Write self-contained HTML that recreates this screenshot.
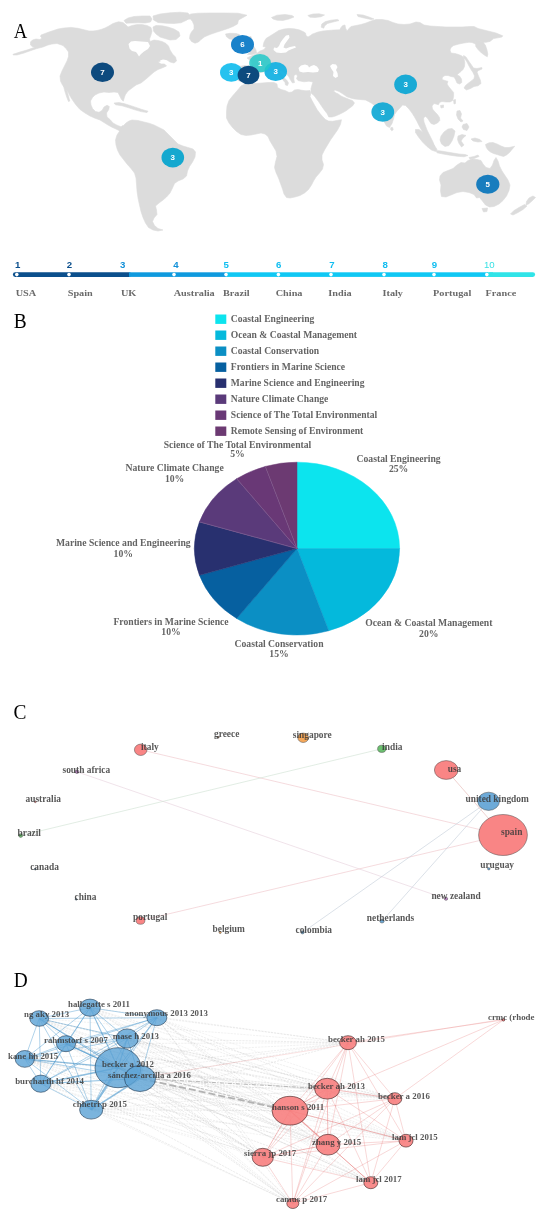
<!DOCTYPE html>
<html lang="en"><head><meta charset="utf-8"><title>Figure</title>
<style>html,body{margin:0;padding:0;background:#fff}svg{display:block}</style></head>
<body><svg width="550" height="1218" viewBox="0 0 550 1218">
<rect width="550" height="1218" fill="#fff"/>
<g id="map">
<polygon points="13.0,54.3 20.0,52.0 27.0,50.0 32.0,48.3 35.0,47.3 32.5,46.8 30.5,45.0 30.5,42.0 32.5,40.0 36.0,39.0 40.0,39.5 42.0,38.0 40.5,36.5 41.0,35.0 45.0,33.5 49.0,32.0 53.5,30.5 58.0,29.0 64.0,28.0 71.0,27.4 78.0,28.3 85.0,30.0 89.0,31.0 93.0,31.0 97.0,30.5 101.0,29.5 105.0,28.0 108.0,26.5 110.5,25.0 113.0,23.5 116.0,22.5 118.6,21.8 123.0,22.5 126.0,25.0 128.0,27.0 132.0,25.5 137.0,24.6 142.0,24.6 147.0,25.5 151.0,27.5 152.0,31.0 151.0,35.0 149.5,39.0 150.0,41.5 154.0,40.0 158.0,40.5 162.0,41.5 166.0,43.5 168.5,46.0 170.0,50.0 172.5,54.0 175.5,57.0 176.5,61.0 174.0,63.0 170.0,62.0 167.0,60.0 162.0,60.5 158.0,62.0 161.0,64.0 164.5,64.0 166.5,66.0 162.0,68.0 158.0,69.5 154.0,72.0 150.0,75.5 146.0,79.0 141.0,83.0 136.0,85.0 132.0,88.0 128.0,91.0 125.5,94.5 124.5,97.0 123.3,101.2 121.5,99.5 119.5,95.5 118.0,92.5 114.0,92.0 109.0,92.5 104.0,92.0 99.0,93.0 95.0,95.0 92.5,97.5 90.5,101.0 91.0,105.0 92.5,108.5 95.5,111.5 99.0,112.3 102.0,110.5 104.0,107.0 107.0,105.2 109.3,106.5 108.8,109.5 106.5,113.0 107.0,117.0 110.0,119.5 113.0,123.0 117.0,125.2 121.0,126.8 123.0,125.5 124.0,128.0 120.0,131.0 116.0,129.0 112.0,127.2 108.0,125.0 104.0,122.5 100.0,120.0 95.0,118.2 90.0,116.0 85.0,113.0 80.0,109.5 76.0,105.0 72.5,100.0 70.0,96.0 68.0,92.0 65.5,88.5 62.5,85.0 60.5,81.0 60.0,76.0 62.0,71.0 64.5,66.0 67.0,61.0 68.5,56.5 68.5,52.0 66.0,48.5 63.0,45.5 57.0,43.5 52.0,44.0 48.0,45.0 43.0,47.0 37.0,48.5 31.0,50.5 24.0,53.0 17.0,55.0 13.2,55.0" fill="#dcdcdc" stroke="#dcdcdc" stroke-width="0.6" stroke-linejoin="round"/>
<polygon points="124.0,20.5 128.0,18.0 134.0,16.5 142.0,16.0 150.0,16.0 152.0,19.0 150.5,22.0 145.0,23.0 138.0,22.8 131.0,23.0 126.0,23.2" fill="#dcdcdc" stroke="#dcdcdc" stroke-width="0.6" stroke-linejoin="round"/>
<polygon points="153.0,27.0 156.0,25.5 162.0,25.8 168.0,27.0 174.0,29.0 179.0,32.0 180.0,36.0 176.0,39.5 170.0,40.0 165.0,38.5 160.0,37.0 156.0,34.0 153.5,31.0" fill="#dcdcdc" stroke="#dcdcdc" stroke-width="0.6" stroke-linejoin="round"/>
<polygon points="153.0,16.0 160.0,14.0 170.0,12.8 180.0,12.2 188.0,13.0 190.0,16.0 187.0,20.0 181.0,22.8 174.0,23.5 166.0,23.2 158.0,22.5 153.5,20.0" fill="#dcdcdc" stroke="#dcdcdc" stroke-width="0.6" stroke-linejoin="round"/>
<polygon points="186.0,16.5 191.0,14.0 198.0,13.2 210.0,13.0 225.0,13.0 238.0,13.2 247.0,15.2 243.0,17.5 238.5,20.0 237.5,24.0 233.0,26.5 228.0,28.5 222.0,30.5 216.4,32.3 210.0,34.5 204.7,36.8 201.0,39.5 198.5,42.0 195.0,43.2 191.5,41.5 189.5,38.5 190.0,35.0 191.5,32.0 194.0,29.0 194.0,25.0 192.5,21.5 190.5,19.0 186.0,19.5 182.0,19.5" fill="#dcdcdc" stroke="#dcdcdc" stroke-width="0.6" stroke-linejoin="round"/>
<polygon points="225.5,34.0 230.0,33.3 236.0,33.5 239.5,34.5 238.0,37.0 234.0,39.5 229.5,39.0 226.5,36.8" fill="#dcdcdc" stroke="#dcdcdc" stroke-width="0.6" stroke-linejoin="round"/>
<polygon points="238.0,80.5 237.0,73.0 238.5,66.5 245.0,65.5 252.0,66.5 251.5,61.5 247.0,58.0 251.0,56.0 256.0,54.0 260.0,51.0 264.0,49.5 266.0,47.0 263.0,46.5 264.0,42.0 266.0,38.5 270.0,36.0 274.0,33.5 278.7,30.5 284.0,29.0 289.0,28.4 294.0,28.8 299.0,29.8 303.0,31.5 305.5,33.0 306.0,35.5 308.0,37.0 310.5,35.5 312.2,34.2 318.0,32.0 323.0,31.0 328.2,30.5 334.0,30.0 339.8,29.8 341.0,27.5 342.7,25.5 345.0,25.0 345.5,28.0 347.0,31.0 349.0,28.5 351.0,26.5 356.0,25.5 361.0,24.5 366.0,23.0 371.0,21.0 376.0,19.5 382.0,19.5 388.0,20.5 393.0,22.5 398.0,24.0 404.0,24.5 410.0,24.0 416.0,22.0 420.0,22.5 424.0,25.0 430.0,26.0 438.0,26.5 446.0,27.0 454.0,27.0 462.0,27.0 470.0,26.5 474.0,26.5 478.0,28.5 484.0,30.0 490.0,31.5 496.0,33.0 502.7,35.8 502.0,37.0 498.0,37.8 493.6,38.6 490.0,41.4 486.0,42.3 482.7,42.3 479.0,40.5 476.0,41.0 475.5,44.0 472.0,42.5 469.0,42.3 464.0,43.0 459.0,44.0 453.6,45.5 451.0,47.5 450.0,50.0 451.0,53.0 455.0,53.5 458.5,54.5 462.0,56.0 464.0,58.5 464.8,62.5 464.5,66.5 463.0,69.5 461.0,71.5 458.5,73.5 457.0,75.0 459.5,76.0 461.5,79.0 461.8,82.5 459.5,84.0 457.0,83.0 455.5,79.5 454.0,77.0 451.0,76.5 448.0,75.5 445.0,75.5 442.5,77.0 442.0,79.5 445.0,80.5 448.0,81.4 447.0,84.0 449.0,87.0 451.5,90.0 453.6,92.5 453.6,96.5 452.7,100.5 450.0,102.0 446.0,102.0 442.0,101.5 439.5,102.5 438.4,104.8 436.0,104.0 434.0,103.5 432.0,106.0 432.5,109.0 435.0,112.0 437.5,114.5 439.5,117.5 439.8,120.5 437.5,123.0 434.0,124.5 431.0,123.5 429.0,120.5 427.0,117.5 425.3,116.4 423.5,118.0 424.0,122.0 425.5,126.0 427.0,130.0 429.0,134.0 431.0,138.0 433.0,142.0 434.4,145.8 432.0,147.0 429.5,144.0 427.0,140.0 424.5,135.5 422.0,131.0 419.5,126.5 417.0,121.5 414.5,117.0 412.0,113.0 409.0,109.0 405.5,105.5 402.5,105.0 400.4,107.5 397.0,111.0 394.5,114.5 393.5,119.0 392.0,123.5 389.5,127.6 386.5,126.0 384.0,121.5 382.5,116.0 380.0,111.5 377.5,108.5 375.3,106.6 372.0,103.4 368.5,101.5 365.5,100.0 360.0,99.5 354.5,99.0 350.5,98.0 347.0,96.8 343.0,94.0 339.0,91.5 335.0,90.0 333.5,91.0 336.0,93.0 338.0,93.8 341.0,96.0 343.6,97.2 347.0,98.5 350.0,99.8 352.4,100.5 354.5,103.0 352.5,106.0 349.0,108.5 346.5,110.5 343.0,112.5 339.0,114.5 335.5,116.0 332.0,117.0 328.8,117.0 327.0,113.5 324.3,110.0 321.5,106.0 318.5,101.5 315.5,97.5 313.5,95.0 312.0,94.0 311.0,92.5 311.0,88.5 312.0,85.0 313.0,82.0 309.0,81.2 304.0,81.8 300.0,81.0 298.0,80.5 296.5,78.5 297.5,76.0 296.0,74.3 294.0,75.5 293.8,79.0 294.5,82.5 292.5,83.0 290.5,80.0 289.0,77.0 287.0,74.5 284.5,72.5 282.0,71.0 280.0,70.5 279.5,72.0 282.0,75.0 284.5,78.0 287.0,80.5 288.5,83.0 287.5,85.5 285.5,85.0 285.0,82.5 282.5,79.5 279.5,76.0 277.0,73.0 274.0,71.0 271.0,70.5 267.0,71.5 263.0,72.0 260.0,72.5 258.0,75.0 256.5,78.5 253.5,81.5 249.0,82.5 244.5,82.5 241.0,81.5" fill="#dcdcdc" stroke="#dcdcdc" stroke-width="0.6" stroke-linejoin="round"/>
<polygon points="247.5,37.0 251.0,36.5 252.0,40.0 251.0,43.0 253.5,46.0 256.0,50.0 256.5,53.0 252.0,54.5 247.5,54.5 250.0,52.0 248.0,49.5 249.5,46.5 247.5,43.0 246.5,40.0" fill="#dcdcdc" stroke="#dcdcdc" stroke-width="0.6" stroke-linejoin="round"/>
<polygon points="241.5,47.0 245.5,46.0 246.5,49.5 244.5,52.5 240.5,52.5" fill="#dcdcdc" stroke="#dcdcdc" stroke-width="0.6" stroke-linejoin="round"/>
<polygon points="463.6,55.5 466.0,57.0 469.0,61.5 471.5,65.0 473.5,68.0 477.0,68.5 481.8,67.5 482.0,69.0 478.5,70.5 477.0,72.0 478.5,76.0 480.3,80.0 481.0,83.5 478.0,85.8 474.0,86.5 470.5,88.5 466.4,90.0 464.0,88.0 465.5,85.5 468.5,83.0 472.0,80.5 474.0,78.5 474.6,76.0 473.0,72.5 471.0,69.5 469.0,66.0 467.0,62.0 465.3,59.5 463.3,57.5" fill="#dcdcdc" stroke="#dcdcdc" stroke-width="0.6" stroke-linejoin="round"/>
<polygon points="476.0,41.0 479.0,40.5 483.0,42.0 485.5,45.5 487.0,50.0 487.8,54.0 487.3,56.8 485.0,55.5 481.5,53.0 478.0,49.5 475.8,46.5 475.5,43.5" fill="#dcdcdc" stroke="#dcdcdc" stroke-width="0.6" stroke-linejoin="round"/>
<polygon points="471.0,139.0 475.0,138.0 480.0,139.5 482.0,141.5 478.0,142.0 473.0,141.0" fill="#dcdcdc" stroke="#dcdcdc" stroke-width="0.6" stroke-linejoin="round"/>
<polygon points="469.0,157.5 474.0,156.5 478.0,155.0 479.0,156.5 474.0,158.5 470.0,159.0" fill="#dcdcdc" stroke="#dcdcdc" stroke-width="0.6" stroke-linejoin="round"/>
<polygon points="241.0,86.0 245.0,84.0 250.0,83.5 256.0,83.5 262.0,83.0 268.0,82.5 274.0,82.5 277.0,84.0 277.5,87.5 281.0,89.5 285.0,90.5 289.0,92.5 292.0,92.0 294.5,90.0 298.0,89.5 302.0,90.3 306.0,90.8 310.0,90.5 310.8,93.5 310.0,96.5 312.0,100.5 314.5,105.0 317.0,109.5 320.0,113.5 323.0,117.0 325.5,119.5 328.5,121.0 332.5,121.3 337.0,120.5 341.5,119.7 340.4,124.5 337.5,130.0 334.0,135.0 330.5,140.0 327.5,145.0 324.5,150.0 322.0,155.0 322.0,160.0 323.5,164.5 322.5,169.0 319.5,173.0 316.0,177.0 313.5,181.0 311.5,185.0 308.5,189.5 304.5,193.0 300.0,195.5 295.0,197.0 290.0,198.0 286.5,197.5 284.0,194.0 282.5,189.0 280.5,183.5 278.5,178.0 276.0,172.5 274.5,167.5 275.5,162.0 277.0,156.5 276.0,151.0 273.0,146.0 270.0,141.0 268.0,136.5 265.0,134.0 261.0,133.0 256.0,134.0 251.0,135.0 246.0,135.5 241.0,134.5 236.5,131.5 232.5,127.5 229.0,123.0 226.5,118.0 226.5,112.0 227.0,106.0 229.0,100.5 232.5,96.0 236.0,92.0 239.0,88.5" fill="#dcdcdc" stroke="#dcdcdc" stroke-width="0.6" stroke-linejoin="round"/>
<polygon points="120.0,130.5 123.0,126.0 126.0,123.0 129.0,121.0 132.0,120.0 138.0,120.5 144.0,122.0 149.0,123.2 154.0,125.0 159.0,127.5 164.0,130.0 167.0,133.0 170.0,136.0 174.0,140.0 178.0,144.0 183.0,146.0 188.0,147.5 193.0,149.0 195.5,152.0 195.0,157.0 192.5,162.0 189.5,166.5 187.5,171.0 186.5,176.0 183.0,179.0 178.0,181.0 174.5,183.5 172.5,188.0 170.0,193.0 166.5,197.0 163.0,200.0 159.0,203.0 155.5,206.0 156.5,210.0 157.0,214.5 154.0,218.0 152.5,221.5 154.5,225.5 158.0,228.5 163.0,230.0 158.0,231.0 153.0,230.0 148.5,227.5 145.5,223.0 143.0,217.5 141.0,211.5 139.5,205.0 138.0,198.0 137.0,191.0 136.5,184.0 136.0,178.0 134.5,173.0 131.0,168.5 127.0,164.0 123.5,159.5 120.0,155.0 117.5,150.0 116.0,145.0 115.5,140.0 117.0,135.0" fill="#dcdcdc" stroke="#dcdcdc" stroke-width="0.6" stroke-linejoin="round"/>
<polygon points="114.0,103.0 119.0,102.6 124.0,103.6 130.0,105.4 136.0,107.4 142.0,109.5 148.0,111.2 147.0,112.6 141.0,111.6 134.0,109.6 128.0,107.6 122.0,105.8 115.5,104.8" fill="#dcdcdc" stroke="#dcdcdc" stroke-width="0.6" stroke-linejoin="round"/>
<polygon points="63.5,86.0 65.0,85.5 67.0,91.0 68.5,96.0 69.8,101.0 68.5,101.5 66.5,96.5 64.8,91.0" fill="#dcdcdc" stroke="#dcdcdc" stroke-width="0.6" stroke-linejoin="round"/>
<polygon points="440.0,176.0 443.0,172.5 448.0,170.5 453.0,168.5 457.0,165.0 461.0,162.5 465.0,163.0 468.0,160.5 472.0,159.0 477.0,159.5 481.0,160.5 483.0,164.0 486.0,167.5 490.0,168.5 492.5,165.0 494.0,160.5 496.0,157.5 498.0,161.0 499.5,166.0 502.0,171.0 505.0,175.5 508.0,180.0 510.0,185.0 509.0,190.5 506.5,196.0 503.0,200.5 499.0,204.0 494.0,206.5 489.5,207.0 485.5,205.0 482.0,200.5 479.5,197.5 476.5,198.0 474.0,194.5 469.0,192.5 463.0,191.5 457.0,192.5 451.0,195.0 446.0,197.0 441.5,196.5 440.5,191.0 441.0,185.0 439.5,180.0" fill="#dcdcdc" stroke="#dcdcdc" stroke-width="0.6" stroke-linejoin="round"/>
<polygon points="482.0,208.5 487.5,208.0 487.0,211.5 483.5,212.0" fill="#dcdcdc" stroke="#dcdcdc" stroke-width="0.6" stroke-linejoin="round"/>
<polygon points="529.0,198.0 533.0,196.0 535.5,197.5 532.0,201.0 528.5,204.0 526.0,205.0 526.5,201.5" fill="#dcdcdc" stroke="#dcdcdc" stroke-width="0.6" stroke-linejoin="round"/>
<polygon points="524.5,204.5 527.0,206.0 523.0,209.5 518.0,212.5 513.0,215.0 510.5,214.0 514.0,210.5 519.0,207.5" fill="#dcdcdc" stroke="#dcdcdc" stroke-width="0.6" stroke-linejoin="round"/>
<polygon points="485.5,144.5 489.0,142.8 493.0,142.5 497.0,144.0 501.0,146.0 505.0,147.5 509.0,147.5 514.7,146.3 512.0,149.5 509.5,152.5 506.5,155.0 503.5,156.5 500.0,155.5 497.0,154.5 493.5,153.5 490.5,152.0 488.0,150.0 486.3,147.5" fill="#dcdcdc" stroke="#dcdcdc" stroke-width="0.6" stroke-linejoin="round"/>
<polygon points="441.0,136.0 444.0,132.0 448.0,129.0 452.0,128.5 455.0,131.0 454.0,136.0 452.0,141.0 449.0,145.5 445.0,146.5 441.5,144.0 440.0,140.0" fill="#dcdcdc" stroke="#dcdcdc" stroke-width="0.6" stroke-linejoin="round"/>
<polygon points="415.5,129.5 419.0,129.5 423.0,132.5 427.0,136.5 431.0,141.0 434.5,145.5 437.0,149.5 435.5,151.5 431.5,150.0 427.0,146.5 422.5,142.0 418.5,137.0 415.5,132.5" fill="#dcdcdc" stroke="#dcdcdc" stroke-width="0.6" stroke-linejoin="round"/>
<polygon points="436.0,150.5 441.0,151.0 447.0,152.0 453.0,153.0 459.0,154.0 465.0,154.5 468.0,155.5 464.0,156.8 457.0,156.2 450.0,155.2 443.0,154.0 437.0,152.8" fill="#dcdcdc" stroke="#dcdcdc" stroke-width="0.6" stroke-linejoin="round"/>
<polygon points="458.0,136.0 462.0,134.5 466.0,135.5 463.0,138.0 461.0,141.0 464.0,145.0 461.5,147.0 459.0,143.5 457.5,139.5" fill="#dcdcdc" stroke="#dcdcdc" stroke-width="0.6" stroke-linejoin="round"/>
<polygon points="457.0,111.0 460.0,110.5 461.5,114.0 460.5,118.0 463.0,121.0 461.0,122.0 458.0,119.0 456.5,115.0" fill="#dcdcdc" stroke="#dcdcdc" stroke-width="0.6" stroke-linejoin="round"/>
<polygon points="463.0,124.5 467.0,123.5 469.0,127.0 467.0,130.5 463.5,129.5 462.0,127.0" fill="#dcdcdc" stroke="#dcdcdc" stroke-width="0.6" stroke-linejoin="round"/>
<polygon points="453.5,100.0 455.5,99.5 455.5,103.5 454.0,104.0" fill="#dcdcdc" stroke="#dcdcdc" stroke-width="0.6" stroke-linejoin="round"/>
<polygon points="390.8,127.6 392.6,127.4 393.2,129.8 391.8,130.8 390.6,129.6" fill="#dcdcdc" stroke="#dcdcdc" stroke-width="0.6" stroke-linejoin="round"/>
<polygon points="440.5,105.5 443.5,105.0 443.5,107.5 441.0,108.0" fill="#dcdcdc" stroke="#dcdcdc" stroke-width="0.6" stroke-linejoin="round"/>
<polygon points="271.5,17.5 277.0,15.2 285.0,14.5 292.0,15.5 294.0,17.0 289.0,19.0 283.0,20.4 277.0,20.2 273.0,19.0" fill="#dcdcdc" stroke="#dcdcdc" stroke-width="0.6" stroke-linejoin="round"/>
<polygon points="307.8,15.5 313.0,14.0 319.0,13.8 324.5,15.0 321.0,16.8 315.0,17.5 310.0,17.2" fill="#dcdcdc" stroke="#dcdcdc" stroke-width="0.6" stroke-linejoin="round"/>
<polygon points="321.2,27.2 321.8,24.0 325.3,21.6 331.0,20.2 337.6,19.4 339.0,20.6 333.0,22.0 327.5,23.5 324.5,26.0 323.8,28.2" fill="#dcdcdc" stroke="#dcdcdc" stroke-width="0.6" stroke-linejoin="round"/>
<polygon points="357.0,14.5 363.0,15.0 369.0,17.0 374.0,19.0 371.0,19.5 364.0,18.0 358.0,16.5" fill="#dcdcdc" stroke="#dcdcdc" stroke-width="0.6" stroke-linejoin="round"/>
<polygon points="298.5,68.0 301.0,65.5 305.0,64.5 308.0,65.5 309.0,67.5 311.0,66.0 314.0,65.0 317.0,66.5 319.0,69.5 318.0,72.0 313.0,72.5 308.0,72.0 303.0,72.5 299.5,71.5" fill="#fff"/>
<polygon points="330.0,66.0 332.5,64.0 336.0,64.5 337.5,67.0 336.0,70.0 337.5,73.0 338.0,76.5 335.5,78.0 333.0,76.0 333.5,72.0 331.5,69.0" fill="#fff"/>
<polygon points="286.0,35.5 289.0,35.0 289.5,37.5 287.0,41.0 284.5,44.5 283.5,47.5 286.0,48.5 290.0,47.0 295.0,46.0 296.0,47.5 292.0,49.0 288.5,50.5 286.0,52.5 281.0,53.0 276.5,52.5 273.5,50.0 274.0,47.5 277.0,48.0 279.0,46.0 280.5,42.5 283.0,39.0" fill="#fff"/>
<polygon points="128.5,44.0 131.0,41.5 135.0,41.0 141.0,41.5 148.0,42.0 150.0,46.0 148.0,49.0 144.0,51.5 141.0,54.0 139.0,56.5 137.5,54.0 136.0,52.0 132.0,51.0 129.5,48.5" fill="#fff"/>
<polygon points="160.0,60.5 163.0,59.5 166.0,60.0 168.0,62.0 165.0,62.5 161.0,62.0" fill="#fff"/>
</g>
<text transform="translate(13.80,37.50) scale(0.920,1)" font-family='"Liberation Serif", serif' font-size="20.40" font-weight="normal" fill="#000" text-anchor="start" >A</text>
<ellipse cx="102.5" cy="72.3" rx="11.5" ry="9.7" fill="#0d4a7e" fill-opacity="1.00"/>
<text transform="translate(102.50,74.85) scale(1.120,1)" font-family='"Liberation Sans", sans-serif' font-size="7.10" font-weight="bold" fill="#fff" text-anchor="middle" >7</text>
<ellipse cx="242.5" cy="44.5" rx="11.5" ry="9.6" fill="#1a82ca" fill-opacity="1.00"/>
<text transform="translate(242.50,47.05) scale(1.120,1)" font-family='"Liberation Sans", sans-serif' font-size="7.10" font-weight="bold" fill="#fff" text-anchor="middle" >6</text>
<ellipse cx="231.3" cy="72.4" rx="11.3" ry="9.3" fill="#16bdee" fill-opacity="0.93"/>
<text transform="translate(231.30,74.95) scale(1.120,1)" font-family='"Liberation Sans", sans-serif' font-size="7.10" font-weight="bold" fill="#fff" text-anchor="middle" >3</text>
<ellipse cx="275.7" cy="71.5" rx="11.3" ry="9.5" fill="#10b0e2" fill-opacity="0.92"/>
<text transform="translate(275.70,74.05) scale(1.120,1)" font-family='"Liberation Sans", sans-serif' font-size="7.10" font-weight="bold" fill="#fff" text-anchor="middle" >3</text>
<ellipse cx="260.1" cy="63.1" rx="10.9" ry="9.1" fill="#22c8c8" fill-opacity="0.85"/>
<text transform="translate(260.10,65.65) scale(1.120,1)" font-family='"Liberation Sans", sans-serif' font-size="7.10" font-weight="bold" fill="#fff" text-anchor="middle" >1</text>
<ellipse cx="248.5" cy="75.0" rx="10.9" ry="9.3" fill="#0d4a7e" fill-opacity="1.00"/>
<text transform="translate(248.50,77.55) scale(1.120,1)" font-family='"Liberation Sans", sans-serif' font-size="7.10" font-weight="bold" fill="#fff" text-anchor="middle" >7</text>
<ellipse cx="405.6" cy="84.4" rx="11.4" ry="9.8" fill="#0aa6d4" fill-opacity="0.93"/>
<text transform="translate(405.60,86.95) scale(1.120,1)" font-family='"Liberation Sans", sans-serif' font-size="7.10" font-weight="bold" fill="#fff" text-anchor="middle" >3</text>
<ellipse cx="382.8" cy="112.0" rx="11.4" ry="9.8" fill="#0aa6d4" fill-opacity="0.90"/>
<text transform="translate(382.80,114.55) scale(1.120,1)" font-family='"Liberation Sans", sans-serif' font-size="7.10" font-weight="bold" fill="#fff" text-anchor="middle" >3</text>
<ellipse cx="172.8" cy="157.6" rx="11.3" ry="9.9" fill="#08a4ce" fill-opacity="0.95"/>
<text transform="translate(172.80,160.15) scale(1.120,1)" font-family='"Liberation Sans", sans-serif' font-size="7.10" font-weight="bold" fill="#fff" text-anchor="middle" >3</text>
<ellipse cx="487.8" cy="184.2" rx="11.6" ry="9.5" fill="#1079bc" fill-opacity="0.96"/>
<text transform="translate(487.80,186.75) scale(1.120,1)" font-family='"Liberation Sans", sans-serif' font-size="7.10" font-weight="bold" fill="#fff" text-anchor="middle" >5</text>
<line x1="15.2" y1="274.6" x2="129" y2="274.6" stroke="#0b4f8c" stroke-width="4.6" stroke-linecap="round"/>
<rect x="129" y="272.3" width="97" height="4.6" fill="#0f9ade"/>
<rect x="226" y="272.3" width="262" height="4.6" fill="#10c8f4"/>
<line x1="490" y1="274.6" x2="532.8" y2="274.6" stroke="#30e4e8" stroke-width="4.6" stroke-linecap="round"/>
<rect x="487" y="272.3" width="6" height="4.6" fill="#30e4e8"/>
<circle cx="16.8" cy="274.6" r="1.8" fill="#fff"/>
<text transform="translate(15.00,267.50) scale(1.150,1)" font-family='"Liberation Sans", sans-serif' font-size="8.40" font-weight="bold" fill="#0b4f8c" text-anchor="start" >1</text>
<text transform="translate(15.70,296.00) scale(1.180,1)" font-family='"Liberation Serif", serif' font-size="8.70" font-weight="bold" fill="#6a6a6a" text-anchor="start" >USA</text>
<circle cx="69.0" cy="274.6" r="1.8" fill="#fff"/>
<text transform="translate(66.80,267.50) scale(1.150,1)" font-family='"Liberation Sans", sans-serif' font-size="8.40" font-weight="bold" fill="#0b4f8c" text-anchor="start" >2</text>
<text transform="translate(67.70,296.00) scale(1.180,1)" font-family='"Liberation Serif", serif' font-size="8.70" font-weight="bold" fill="#6a6a6a" text-anchor="start" >Spain</text>
<text transform="translate(120.00,267.50) scale(1.150,1)" font-family='"Liberation Sans", sans-serif' font-size="8.40" font-weight="bold" fill="#1290d8" text-anchor="start" >3</text>
<text transform="translate(120.90,296.00) scale(1.180,1)" font-family='"Liberation Serif", serif' font-size="8.70" font-weight="bold" fill="#6a6a6a" text-anchor="start" >UK</text>
<circle cx="174.0" cy="274.6" r="1.8" fill="#fff"/>
<text transform="translate(173.20,267.50) scale(1.150,1)" font-family='"Liberation Sans", sans-serif' font-size="8.40" font-weight="bold" fill="#1290d8" text-anchor="start" >4</text>
<text transform="translate(173.70,296.00) scale(1.180,1)" font-family='"Liberation Serif", serif' font-size="8.70" font-weight="bold" fill="#6a6a6a" text-anchor="start" >Australia</text>
<circle cx="226.0" cy="274.6" r="1.8" fill="#fff"/>
<text transform="translate(223.40,267.50) scale(1.150,1)" font-family='"Liberation Sans", sans-serif' font-size="8.40" font-weight="bold" fill="#10bdf0" text-anchor="start" >5</text>
<text transform="translate(222.90,296.00) scale(1.180,1)" font-family='"Liberation Serif", serif' font-size="8.70" font-weight="bold" fill="#6a6a6a" text-anchor="start" >Brazil</text>
<circle cx="278.4" cy="274.6" r="1.8" fill="#fff"/>
<text transform="translate(276.00,267.50) scale(1.150,1)" font-family='"Liberation Sans", sans-serif' font-size="8.40" font-weight="bold" fill="#10bdf0" text-anchor="start" >6</text>
<text transform="translate(275.70,296.00) scale(1.180,1)" font-family='"Liberation Serif", serif' font-size="8.70" font-weight="bold" fill="#6a6a6a" text-anchor="start" >China</text>
<circle cx="331.0" cy="274.6" r="1.8" fill="#fff"/>
<text transform="translate(329.20,267.50) scale(1.150,1)" font-family='"Liberation Sans", sans-serif' font-size="8.40" font-weight="bold" fill="#10bdf0" text-anchor="start" >7</text>
<text transform="translate(328.30,296.00) scale(1.180,1)" font-family='"Liberation Serif", serif' font-size="8.70" font-weight="bold" fill="#6a6a6a" text-anchor="start" >India</text>
<circle cx="384.0" cy="274.6" r="1.8" fill="#fff"/>
<text transform="translate(382.60,267.50) scale(1.150,1)" font-family='"Liberation Sans", sans-serif' font-size="8.40" font-weight="bold" fill="#10bdf0" text-anchor="start" >8</text>
<text transform="translate(382.50,296.00) scale(1.180,1)" font-family='"Liberation Serif", serif' font-size="8.70" font-weight="bold" fill="#6a6a6a" text-anchor="start" >Italy</text>
<circle cx="434.0" cy="274.6" r="1.8" fill="#fff"/>
<text transform="translate(431.80,267.50) scale(1.150,1)" font-family='"Liberation Sans", sans-serif' font-size="8.40" font-weight="bold" fill="#10bdf0" text-anchor="start" >9</text>
<text transform="translate(433.10,296.00) scale(1.180,1)" font-family='"Liberation Serif", serif' font-size="8.70" font-weight="bold" fill="#6a6a6a" text-anchor="start" >Portugal</text>
<circle cx="486.8" cy="274.6" r="1.8" fill="#fff"/>
<text transform="translate(484.00,267.50) scale(1.150,1)" font-family='"Liberation Sans", sans-serif' font-size="8.40" font-weight="normal" fill="#38e0e4" text-anchor="start" >10</text>
<text transform="translate(485.50,296.00) scale(1.180,1)" font-family='"Liberation Serif", serif' font-size="8.70" font-weight="bold" fill="#6a6a6a" text-anchor="start" >France</text>
<text transform="translate(13.80,327.50) scale(0.950,1)" font-family='"Liberation Serif", serif' font-size="20.40" font-weight="normal" fill="#000" text-anchor="start" >B</text>
<rect x="215.3" y="314.5" width="11" height="9.4" fill="#0ce4ee"/>
<text x="230.80" y="322.00" font-family='"Liberation Serif", serif' font-size="9.62" font-weight="bold" fill="#646464" text-anchor="start" >Coastal Engineering</text>
<rect x="215.3" y="330.5" width="11" height="9.4" fill="#04b9dc"/>
<text x="230.80" y="338.00" font-family='"Liberation Serif", serif' font-size="9.62" font-weight="bold" fill="#646464" text-anchor="start" >Ocean &amp; Coastal Management</text>
<rect x="215.3" y="346.5" width="11" height="9.4" fill="#0b8fc4"/>
<text x="230.80" y="354.00" font-family='"Liberation Serif", serif' font-size="9.62" font-weight="bold" fill="#646464" text-anchor="start" >Coastal Conservation</text>
<rect x="215.3" y="362.5" width="11" height="9.4" fill="#0660a0"/>
<text x="230.80" y="370.00" font-family='"Liberation Serif", serif' font-size="9.62" font-weight="bold" fill="#646464" text-anchor="start" >Frontiers in Marine Science</text>
<rect x="215.3" y="378.5" width="11" height="9.4" fill="#28306f"/>
<text x="230.80" y="386.00" font-family='"Liberation Serif", serif' font-size="9.62" font-weight="bold" fill="#646464" text-anchor="start" >Marine Science and Engineering</text>
<rect x="215.3" y="394.5" width="11" height="9.4" fill="#5a3a7a"/>
<text x="230.80" y="402.00" font-family='"Liberation Serif", serif' font-size="9.62" font-weight="bold" fill="#646464" text-anchor="start" >Nature Climate Change</text>
<rect x="215.3" y="410.5" width="11" height="9.4" fill="#693876"/>
<text x="230.80" y="418.00" font-family='"Liberation Serif", serif' font-size="9.62" font-weight="bold" fill="#646464" text-anchor="start" >Science of The Total Environmental</text>
<rect x="215.3" y="426.5" width="11" height="9.4" fill="#6c3a72"/>
<text x="230.80" y="434.00" font-family='"Liberation Serif", serif' font-size="9.62" font-weight="bold" fill="#646464" text-anchor="start" >Remote Sensing of Environment</text>
<path d="M297.00,548.60 L297.00,462.20 A102.60,86.40 0 0 1 399.60,548.60 Z" fill="#0ce4ee" stroke="#0ce4ee" stroke-width="0.5"/>
<path d="M297.00,548.60 L399.60,548.60 A102.60,86.40 0 0 1 328.71,630.77 Z" fill="#04b9dc" stroke="#04b9dc" stroke-width="0.5"/>
<path d="M297.00,548.60 L328.71,630.77 A102.60,86.40 0 0 1 236.69,618.50 Z" fill="#0b8fc4" stroke="#0b8fc4" stroke-width="0.5"/>
<path d="M297.00,548.60 L236.69,618.50 A102.60,86.40 0 0 1 199.42,575.30 Z" fill="#0660a0" stroke="#0660a0" stroke-width="0.5"/>
<path d="M297.00,548.60 L199.42,575.30 A102.60,86.40 0 0 1 199.42,521.90 Z" fill="#28306f" stroke="#28306f" stroke-width="0.5"/>
<path d="M297.00,548.60 L199.42,521.90 A102.60,86.40 0 0 1 236.69,478.70 Z" fill="#5a3a7a" stroke="#5a3a7a" stroke-width="0.5"/>
<path d="M297.00,548.60 L236.69,478.70 A102.60,86.40 0 0 1 265.29,466.43 Z" fill="#693876" stroke="#693876" stroke-width="0.5"/>
<path d="M297.00,548.60 L265.29,466.43 A102.60,86.40 0 0 1 297.00,462.20 Z" fill="#6c3a72" stroke="#6c3a72" stroke-width="0.5"/>
<line x1="297.00" y1="548.60" x2="199.42" y2="521.90" stroke="#8a6a9a" stroke-width="0.5"/>
<line x1="297.00" y1="548.60" x2="236.69" y2="478.70" stroke="#8a6a9a" stroke-width="0.5"/>
<line x1="297.00" y1="548.60" x2="265.29" y2="466.43" stroke="#8a6a9a" stroke-width="0.5"/>
<text x="398.60" y="461.80" font-family='"Liberation Serif", serif' font-size="9.70" font-weight="bold" fill="#646464" text-anchor="middle" >Coastal Engineering</text>
<text x="398.60" y="472.00" font-family='"Liberation Serif", serif' font-size="9.70" font-weight="bold" fill="#646464" text-anchor="middle" >25%</text>
<text x="428.80" y="626.10" font-family='"Liberation Serif", serif' font-size="9.70" font-weight="bold" fill="#646464" text-anchor="middle" >Ocean &amp; Coastal Management</text>
<text x="428.80" y="637.20" font-family='"Liberation Serif", serif' font-size="9.70" font-weight="bold" fill="#646464" text-anchor="middle" >20%</text>
<text x="279.00" y="647.00" font-family='"Liberation Serif", serif' font-size="9.70" font-weight="bold" fill="#646464" text-anchor="middle" >Coastal Conservation</text>
<text x="279.00" y="656.80" font-family='"Liberation Serif", serif' font-size="9.70" font-weight="bold" fill="#646464" text-anchor="middle" >15%</text>
<text x="171.00" y="625.30" font-family='"Liberation Serif", serif' font-size="9.70" font-weight="bold" fill="#646464" text-anchor="middle" >Frontiers in Marine Science</text>
<text x="171.00" y="635.30" font-family='"Liberation Serif", serif' font-size="9.70" font-weight="bold" fill="#646464" text-anchor="middle" >10%</text>
<text x="123.30" y="546.10" font-family='"Liberation Serif", serif' font-size="9.70" font-weight="bold" fill="#646464" text-anchor="middle" >Marine Science and Engineering</text>
<text x="123.30" y="556.90" font-family='"Liberation Serif", serif' font-size="9.70" font-weight="bold" fill="#646464" text-anchor="middle" >10%</text>
<text x="174.60" y="470.80" font-family='"Liberation Serif", serif' font-size="9.70" font-weight="bold" fill="#646464" text-anchor="middle" >Nature Climate Change</text>
<text x="174.60" y="481.70" font-family='"Liberation Serif", serif' font-size="9.70" font-weight="bold" fill="#646464" text-anchor="middle" >10%</text>
<text x="237.50" y="448.20" font-family='"Liberation Serif", serif' font-size="9.70" font-weight="bold" fill="#646464" text-anchor="middle" >Science of The Total Environmental</text>
<text x="237.50" y="457.40" font-family='"Liberation Serif", serif' font-size="9.70" font-weight="bold" fill="#646464" text-anchor="middle" >5%</text>
<text transform="translate(13.60,718.80) scale(0.950,1)" font-family='"Liberation Serif", serif' font-size="20.40" font-weight="normal" fill="#000" text-anchor="start" >C</text>
<line x1="140.7" y1="749.8" x2="503.0" y2="835.0" stroke="#eec2c8" stroke-width="0.6"/>
<line x1="77.0" y1="771.8" x2="446.0" y2="898.8" stroke="#e6d0dc" stroke-width="0.6"/>
<line x1="20.7" y1="835.6" x2="381.8" y2="748.8" stroke="#cfe0d2" stroke-width="0.6"/>
<line x1="140.5" y1="920.5" x2="503.0" y2="835.0" stroke="#eec2c8" stroke-width="0.6"/>
<line x1="302.5" y1="932.5" x2="488.6" y2="801.3" stroke="#c2ccd8" stroke-width="0.6"/>
<line x1="382.0" y1="921.2" x2="488.6" y2="801.3" stroke="#c2ccd8" stroke-width="0.6"/>
<line x1="446.2" y1="770.0" x2="503.0" y2="835.0" stroke="#e4b4b0" stroke-width="0.6"/>
<ellipse cx="140.7" cy="749.8" rx="6.3" ry="5.7" fill="#f98585" stroke="#4a4a4a" stroke-width="0.5"/>
<ellipse cx="218.2" cy="737.2" rx="1.0" ry="0.9" fill="#b08060" stroke="#4a4a4a" stroke-width="0.5"/>
<ellipse cx="303.2" cy="737.8" rx="5.4" ry="4.7" fill="#f5a85a" stroke="#4a4a4a" stroke-width="0.5"/>
<ellipse cx="381.8" cy="748.8" rx="4.2" ry="3.6" fill="#6cc070" stroke="#4a4a4a" stroke-width="0.5"/>
<ellipse cx="446.2" cy="770.0" rx="11.8" ry="9.4" fill="#f98585" stroke="#4a4a4a" stroke-width="0.5"/>
<ellipse cx="488.6" cy="801.3" rx="10.9" ry="9.1" fill="#6daad8" stroke="#4a4a4a" stroke-width="0.5"/>
<ellipse cx="503.0" cy="835.0" rx="24.4" ry="20.5" fill="#f98585" stroke="#4a4a4a" stroke-width="0.5"/>
<ellipse cx="488.8" cy="868.8" rx="1.3" ry="1.1" fill="#6daad8" stroke="#4a4a4a" stroke-width="0.5"/>
<ellipse cx="446.0" cy="898.8" rx="1.7" ry="1.5" fill="#c78ad0" stroke="#4a4a4a" stroke-width="0.5"/>
<ellipse cx="382.0" cy="921.2" rx="2.1" ry="1.8" fill="#6daad8" stroke="#4a4a4a" stroke-width="0.5"/>
<ellipse cx="302.5" cy="932.5" rx="1.6" ry="1.4" fill="#6daad8" stroke="#4a4a4a" stroke-width="0.5"/>
<ellipse cx="220.2" cy="932.5" rx="1.1" ry="1.0" fill="#f5a85a" stroke="#4a4a4a" stroke-width="0.5"/>
<ellipse cx="140.5" cy="920.5" rx="4.4" ry="3.8" fill="#f98585" stroke="#4a4a4a" stroke-width="0.5"/>
<ellipse cx="76.2" cy="899.3" rx="1.0" ry="0.9" fill="#6daad8" stroke="#4a4a4a" stroke-width="0.5"/>
<ellipse cx="35.3" cy="869.2" rx="1.0" ry="0.9" fill="#6daad8" stroke="#4a4a4a" stroke-width="0.5"/>
<ellipse cx="20.7" cy="835.6" rx="2.0" ry="1.8" fill="#6cc070" stroke="#4a4a4a" stroke-width="0.5"/>
<ellipse cx="35.3" cy="801.8" rx="1.0" ry="0.9" fill="#f98585" stroke="#4a4a4a" stroke-width="0.5"/>
<ellipse cx="77.0" cy="771.8" rx="1.9" ry="1.7" fill="#c78ad0" stroke="#4a4a4a" stroke-width="0.5"/>
<text x="141.00" y="750.00" font-family='"Liberation Serif", serif' font-size="9.40" font-weight="bold" fill="#3a3a3a" text-anchor="start" fill-opacity="0.85">italy</text>
<text x="214.00" y="737.00" font-family='"Liberation Serif", serif' font-size="9.40" font-weight="bold" fill="#3a3a3a" text-anchor="start" fill-opacity="0.85">greece</text>
<text x="292.80" y="737.60" font-family='"Liberation Serif", serif' font-size="9.40" font-weight="bold" fill="#3a3a3a" text-anchor="start" fill-opacity="0.85">singapore</text>
<text x="382.10" y="750.20" font-family='"Liberation Serif", serif' font-size="9.40" font-weight="bold" fill="#3a3a3a" text-anchor="start" fill-opacity="0.85">india</text>
<text x="447.70" y="772.10" font-family='"Liberation Serif", serif' font-size="9.40" font-weight="bold" fill="#3a3a3a" text-anchor="start" fill-opacity="0.85">usa</text>
<text x="465.50" y="801.80" font-family='"Liberation Serif", serif' font-size="9.40" font-weight="bold" fill="#3a3a3a" text-anchor="start" fill-opacity="0.85">united kingdom</text>
<text x="501.00" y="835.40" font-family='"Liberation Serif", serif' font-size="9.40" font-weight="bold" fill="#3a3a3a" text-anchor="start" fill-opacity="0.85">spain</text>
<text x="480.20" y="867.60" font-family='"Liberation Serif", serif' font-size="9.40" font-weight="bold" fill="#3a3a3a" text-anchor="start" fill-opacity="0.85">uruguay</text>
<text x="431.40" y="899.00" font-family='"Liberation Serif", serif' font-size="9.40" font-weight="bold" fill="#3a3a3a" text-anchor="start" fill-opacity="0.85">new zealand</text>
<text x="366.80" y="920.80" font-family='"Liberation Serif", serif' font-size="9.40" font-weight="bold" fill="#3a3a3a" text-anchor="start" fill-opacity="0.85">netherlands</text>
<text x="295.50" y="933.00" font-family='"Liberation Serif", serif' font-size="9.40" font-weight="bold" fill="#3a3a3a" text-anchor="start" fill-opacity="0.85">colombia</text>
<text x="212.50" y="932.00" font-family='"Liberation Serif", serif' font-size="9.40" font-weight="bold" fill="#3a3a3a" text-anchor="start" fill-opacity="0.85">belgium</text>
<text x="133.00" y="919.80" font-family='"Liberation Serif", serif' font-size="9.40" font-weight="bold" fill="#3a3a3a" text-anchor="start" fill-opacity="0.85">portugal</text>
<text x="74.50" y="900.20" font-family='"Liberation Serif", serif' font-size="9.40" font-weight="bold" fill="#3a3a3a" text-anchor="start" fill-opacity="0.85">china</text>
<text x="30.20" y="870.00" font-family='"Liberation Serif", serif' font-size="9.40" font-weight="bold" fill="#3a3a3a" text-anchor="start" fill-opacity="0.85">canada</text>
<text x="17.50" y="836.00" font-family='"Liberation Serif", serif' font-size="9.40" font-weight="bold" fill="#3a3a3a" text-anchor="start" fill-opacity="0.85">brazil</text>
<text x="25.50" y="802.40" font-family='"Liberation Serif", serif' font-size="9.40" font-weight="bold" fill="#3a3a3a" text-anchor="start" fill-opacity="0.85">australia</text>
<text x="62.50" y="772.60" font-family='"Liberation Serif", serif' font-size="9.40" font-weight="bold" fill="#3a3a3a" text-anchor="start" fill-opacity="0.85">south africa</text>
<text transform="translate(13.80,987.20) scale(0.950,1)" font-family='"Liberation Serif", serif' font-size="20.40" font-weight="normal" fill="#000" text-anchor="start" >D</text>
<g stroke="#a8a8a8" stroke-width="0.5" stroke-dasharray="2.2,1" fill="none">
<line x1="90.0" y1="1007.7" x2="348.0" y2="1042.7" stroke-opacity="0.30"/>
<line x1="90.0" y1="1007.7" x2="327.2" y2="1088.7" stroke-opacity="0.36"/>
<line x1="90.0" y1="1007.7" x2="290.0" y2="1110.7" stroke-opacity="0.32"/>
<line x1="90.0" y1="1007.7" x2="394.8" y2="1098.7" stroke-opacity="0.37"/>
<line x1="90.0" y1="1007.7" x2="328.0" y2="1144.7" stroke-opacity="0.38"/>
<line x1="90.0" y1="1007.7" x2="406.0" y2="1140.7" stroke-opacity="0.26"/>
<line x1="90.0" y1="1007.7" x2="262.8" y2="1157.3" stroke-opacity="0.25"/>
<line x1="90.0" y1="1007.7" x2="370.8" y2="1182.7" stroke-opacity="0.42"/>
<line x1="90.0" y1="1007.7" x2="292.8" y2="1203.5" stroke-opacity="0.30"/>
<line x1="39.2" y1="1018.5" x2="348.0" y2="1042.7" stroke-opacity="0.30"/>
<line x1="39.2" y1="1018.5" x2="327.2" y2="1088.7" stroke-opacity="0.45"/>
<line x1="39.2" y1="1018.5" x2="290.0" y2="1110.7" stroke-opacity="0.34"/>
<line x1="39.2" y1="1018.5" x2="394.8" y2="1098.7" stroke-opacity="0.42"/>
<line x1="39.2" y1="1018.5" x2="328.0" y2="1144.7" stroke-opacity="0.35"/>
<line x1="39.2" y1="1018.5" x2="406.0" y2="1140.7" stroke-opacity="0.38"/>
<line x1="39.2" y1="1018.5" x2="262.8" y2="1157.3" stroke-opacity="0.28"/>
<line x1="39.2" y1="1018.5" x2="370.8" y2="1182.7" stroke-opacity="0.38"/>
<line x1="39.2" y1="1018.5" x2="292.8" y2="1203.5" stroke-opacity="0.42"/>
<line x1="156.8" y1="1017.7" x2="348.0" y2="1042.7" stroke-opacity="0.35"/>
<line x1="156.8" y1="1017.7" x2="327.2" y2="1088.7" stroke-opacity="0.40"/>
<line x1="156.8" y1="1017.7" x2="290.0" y2="1110.7" stroke-opacity="0.38"/>
<line x1="156.8" y1="1017.7" x2="394.8" y2="1098.7" stroke-opacity="0.26"/>
<line x1="156.8" y1="1017.7" x2="328.0" y2="1144.7" stroke-opacity="0.40"/>
<line x1="156.8" y1="1017.7" x2="406.0" y2="1140.7" stroke-opacity="0.37"/>
<line x1="156.8" y1="1017.7" x2="262.8" y2="1157.3" stroke-opacity="0.31"/>
<line x1="156.8" y1="1017.7" x2="370.8" y2="1182.7" stroke-opacity="0.26"/>
<line x1="156.8" y1="1017.7" x2="292.8" y2="1203.5" stroke-opacity="0.42"/>
<line x1="66.0" y1="1043.7" x2="348.0" y2="1042.7" stroke-opacity="0.34"/>
<line x1="66.0" y1="1043.7" x2="327.2" y2="1088.7" stroke-opacity="0.39"/>
<line x1="66.0" y1="1043.7" x2="290.0" y2="1110.7" stroke-opacity="0.43"/>
<line x1="66.0" y1="1043.7" x2="394.8" y2="1098.7" stroke-opacity="0.39"/>
<line x1="66.0" y1="1043.7" x2="328.0" y2="1144.7" stroke-opacity="0.43"/>
<line x1="66.0" y1="1043.7" x2="406.0" y2="1140.7" stroke-opacity="0.33"/>
<line x1="66.0" y1="1043.7" x2="262.8" y2="1157.3" stroke-opacity="0.41"/>
<line x1="66.0" y1="1043.7" x2="370.8" y2="1182.7" stroke-opacity="0.34"/>
<line x1="66.0" y1="1043.7" x2="292.8" y2="1203.5" stroke-opacity="0.44"/>
<line x1="127.2" y1="1038.5" x2="348.0" y2="1042.7" stroke-opacity="0.43"/>
<line x1="127.2" y1="1038.5" x2="327.2" y2="1088.7" stroke-opacity="0.27"/>
<line x1="127.2" y1="1038.5" x2="290.0" y2="1110.7" stroke-opacity="0.28"/>
<line x1="127.2" y1="1038.5" x2="394.8" y2="1098.7" stroke-opacity="0.29"/>
<line x1="127.2" y1="1038.5" x2="328.0" y2="1144.7" stroke-opacity="0.44"/>
<line x1="127.2" y1="1038.5" x2="406.0" y2="1140.7" stroke-opacity="0.34"/>
<line x1="127.2" y1="1038.5" x2="262.8" y2="1157.3" stroke-opacity="0.38"/>
<line x1="127.2" y1="1038.5" x2="370.8" y2="1182.7" stroke-opacity="0.31"/>
<line x1="127.2" y1="1038.5" x2="292.8" y2="1203.5" stroke-opacity="0.35"/>
<line x1="24.8" y1="1058.9" x2="348.0" y2="1042.7" stroke-opacity="0.33"/>
<line x1="24.8" y1="1058.9" x2="327.2" y2="1088.7" stroke-opacity="0.32"/>
<line x1="24.8" y1="1058.9" x2="290.0" y2="1110.7" stroke-opacity="0.37"/>
<line x1="24.8" y1="1058.9" x2="394.8" y2="1098.7" stroke-opacity="0.37"/>
<line x1="24.8" y1="1058.9" x2="328.0" y2="1144.7" stroke-opacity="0.43"/>
<line x1="24.8" y1="1058.9" x2="406.0" y2="1140.7" stroke-opacity="0.39"/>
<line x1="24.8" y1="1058.9" x2="262.8" y2="1157.3" stroke-opacity="0.44"/>
<line x1="24.8" y1="1058.9" x2="370.8" y2="1182.7" stroke-opacity="0.42"/>
<line x1="24.8" y1="1058.9" x2="292.8" y2="1203.5" stroke-opacity="0.45"/>
<line x1="118.0" y1="1067.7" x2="348.0" y2="1042.7" stroke-opacity="0.38"/>
<line x1="118.0" y1="1067.7" x2="327.2" y2="1088.7" stroke-opacity="0.28"/>
<line x1="118.0" y1="1067.7" x2="290.0" y2="1110.7" stroke-opacity="0.42"/>
<line x1="118.0" y1="1067.7" x2="394.8" y2="1098.7" stroke-opacity="0.44"/>
<line x1="118.0" y1="1067.7" x2="328.0" y2="1144.7" stroke-opacity="0.43"/>
<line x1="118.0" y1="1067.7" x2="406.0" y2="1140.7" stroke-opacity="0.36"/>
<line x1="118.0" y1="1067.7" x2="262.8" y2="1157.3" stroke-opacity="0.39"/>
<line x1="118.0" y1="1067.7" x2="370.8" y2="1182.7" stroke-opacity="0.29"/>
<line x1="118.0" y1="1067.7" x2="292.8" y2="1203.5" stroke-opacity="0.42"/>
<line x1="140.0" y1="1078.5" x2="348.0" y2="1042.7" stroke-opacity="0.36"/>
<line x1="140.0" y1="1078.5" x2="327.2" y2="1088.7" stroke-opacity="0.31"/>
<line x1="140.0" y1="1078.5" x2="290.0" y2="1110.7" stroke-opacity="0.26"/>
<line x1="140.0" y1="1078.5" x2="394.8" y2="1098.7" stroke-opacity="0.42"/>
<line x1="140.0" y1="1078.5" x2="328.0" y2="1144.7" stroke-opacity="0.45"/>
<line x1="140.0" y1="1078.5" x2="406.0" y2="1140.7" stroke-opacity="0.27"/>
<line x1="140.0" y1="1078.5" x2="262.8" y2="1157.3" stroke-opacity="0.41"/>
<line x1="140.0" y1="1078.5" x2="370.8" y2="1182.7" stroke-opacity="0.33"/>
<line x1="140.0" y1="1078.5" x2="292.8" y2="1203.5" stroke-opacity="0.28"/>
<line x1="40.8" y1="1083.7" x2="348.0" y2="1042.7" stroke-opacity="0.31"/>
<line x1="40.8" y1="1083.7" x2="327.2" y2="1088.7" stroke-opacity="0.40"/>
<line x1="40.8" y1="1083.7" x2="290.0" y2="1110.7" stroke-opacity="0.42"/>
<line x1="40.8" y1="1083.7" x2="394.8" y2="1098.7" stroke-opacity="0.26"/>
<line x1="40.8" y1="1083.7" x2="328.0" y2="1144.7" stroke-opacity="0.37"/>
<line x1="40.8" y1="1083.7" x2="406.0" y2="1140.7" stroke-opacity="0.26"/>
<line x1="40.8" y1="1083.7" x2="262.8" y2="1157.3" stroke-opacity="0.39"/>
<line x1="40.8" y1="1083.7" x2="370.8" y2="1182.7" stroke-opacity="0.32"/>
<line x1="40.8" y1="1083.7" x2="292.8" y2="1203.5" stroke-opacity="0.43"/>
<line x1="91.2" y1="1109.7" x2="348.0" y2="1042.7" stroke-opacity="0.45"/>
<line x1="91.2" y1="1109.7" x2="327.2" y2="1088.7" stroke-opacity="0.35"/>
<line x1="91.2" y1="1109.7" x2="290.0" y2="1110.7" stroke-opacity="0.45"/>
<line x1="91.2" y1="1109.7" x2="394.8" y2="1098.7" stroke-opacity="0.31"/>
<line x1="91.2" y1="1109.7" x2="328.0" y2="1144.7" stroke-opacity="0.27"/>
<line x1="91.2" y1="1109.7" x2="406.0" y2="1140.7" stroke-opacity="0.37"/>
<line x1="91.2" y1="1109.7" x2="262.8" y2="1157.3" stroke-opacity="0.26"/>
<line x1="91.2" y1="1109.7" x2="370.8" y2="1182.7" stroke-opacity="0.29"/>
<line x1="91.2" y1="1109.7" x2="292.8" y2="1203.5" stroke-opacity="0.33"/>
</g>
<line x1="140.0" y1="1078.5" x2="290.0" y2="1110.7" stroke="#b2b2b2" stroke-width="1.8" stroke-dasharray="7,3"/>
<line x1="140.0" y1="1078.5" x2="327.2" y2="1088.7" stroke="#b8b8b8" stroke-width="1.0" stroke-dasharray="4,1.5,1,1.5"/>
<line x1="118.0" y1="1067.7" x2="290.0" y2="1110.7" stroke="#c0c0c0" stroke-width="0.9" stroke-dasharray="3,1.5"/>
<g stroke="#4494cc" stroke-opacity="0.6" fill="none">
<line x1="90.0" y1="1007.7" x2="39.2" y2="1018.5" stroke-width="0.7"/>
<line x1="90.0" y1="1007.7" x2="156.8" y2="1017.7" stroke-width="0.7"/>
<line x1="90.0" y1="1007.7" x2="66.0" y2="1043.7" stroke-width="0.7"/>
<line x1="90.0" y1="1007.7" x2="127.2" y2="1038.5" stroke-width="0.7"/>
<line x1="90.0" y1="1007.7" x2="24.8" y2="1058.9" stroke-width="0.7"/>
<line x1="90.0" y1="1007.7" x2="118.0" y2="1067.7" stroke-width="1.1"/>
<line x1="90.0" y1="1007.7" x2="140.0" y2="1078.5" stroke-width="0.7"/>
<line x1="90.0" y1="1007.7" x2="40.8" y2="1083.7" stroke-width="0.7"/>
<line x1="90.0" y1="1007.7" x2="91.2" y2="1109.7" stroke-width="0.7"/>
<line x1="39.2" y1="1018.5" x2="156.8" y2="1017.7" stroke-width="0.7"/>
<line x1="39.2" y1="1018.5" x2="66.0" y2="1043.7" stroke-width="0.7"/>
<line x1="39.2" y1="1018.5" x2="127.2" y2="1038.5" stroke-width="0.7"/>
<line x1="39.2" y1="1018.5" x2="24.8" y2="1058.9" stroke-width="0.7"/>
<line x1="39.2" y1="1018.5" x2="118.0" y2="1067.7" stroke-width="1.0"/>
<line x1="39.2" y1="1018.5" x2="140.0" y2="1078.5" stroke-width="0.7"/>
<line x1="39.2" y1="1018.5" x2="40.8" y2="1083.7" stroke-width="0.7"/>
<line x1="39.2" y1="1018.5" x2="91.2" y2="1109.7" stroke-width="0.7"/>
<line x1="156.8" y1="1017.7" x2="66.0" y2="1043.7" stroke-width="0.7"/>
<line x1="156.8" y1="1017.7" x2="127.2" y2="1038.5" stroke-width="0.7"/>
<line x1="156.8" y1="1017.7" x2="24.8" y2="1058.9" stroke-width="0.7"/>
<line x1="156.8" y1="1017.7" x2="118.0" y2="1067.7" stroke-width="1.0"/>
<line x1="156.8" y1="1017.7" x2="140.0" y2="1078.5" stroke-width="0.7"/>
<line x1="156.8" y1="1017.7" x2="40.8" y2="1083.7" stroke-width="0.7"/>
<line x1="156.8" y1="1017.7" x2="91.2" y2="1109.7" stroke-width="0.7"/>
<line x1="66.0" y1="1043.7" x2="127.2" y2="1038.5" stroke-width="0.7"/>
<line x1="66.0" y1="1043.7" x2="24.8" y2="1058.9" stroke-width="0.7"/>
<line x1="66.0" y1="1043.7" x2="118.0" y2="1067.7" stroke-width="1.3"/>
<line x1="66.0" y1="1043.7" x2="140.0" y2="1078.5" stroke-width="0.7"/>
<line x1="66.0" y1="1043.7" x2="40.8" y2="1083.7" stroke-width="0.7"/>
<line x1="66.0" y1="1043.7" x2="91.2" y2="1109.7" stroke-width="0.7"/>
<line x1="127.2" y1="1038.5" x2="24.8" y2="1058.9" stroke-width="0.7"/>
<line x1="127.2" y1="1038.5" x2="118.0" y2="1067.7" stroke-width="1.2"/>
<line x1="127.2" y1="1038.5" x2="140.0" y2="1078.5" stroke-width="1.0"/>
<line x1="127.2" y1="1038.5" x2="40.8" y2="1083.7" stroke-width="0.7"/>
<line x1="127.2" y1="1038.5" x2="91.2" y2="1109.7" stroke-width="0.7"/>
<line x1="24.8" y1="1058.9" x2="118.0" y2="1067.7" stroke-width="1.3"/>
<line x1="24.8" y1="1058.9" x2="140.0" y2="1078.5" stroke-width="0.7"/>
<line x1="24.8" y1="1058.9" x2="40.8" y2="1083.7" stroke-width="0.7"/>
<line x1="24.8" y1="1058.9" x2="91.2" y2="1109.7" stroke-width="0.7"/>
<line x1="118.0" y1="1067.7" x2="140.0" y2="1078.5" stroke-width="0.7"/>
<line x1="118.0" y1="1067.7" x2="40.8" y2="1083.7" stroke-width="1.5"/>
<line x1="118.0" y1="1067.7" x2="91.2" y2="1109.7" stroke-width="2.0"/>
<line x1="140.0" y1="1078.5" x2="40.8" y2="1083.7" stroke-width="1.0"/>
<line x1="140.0" y1="1078.5" x2="91.2" y2="1109.7" stroke-width="1.5"/>
<line x1="40.8" y1="1083.7" x2="91.2" y2="1109.7" stroke-width="0.7"/>
</g>
<g stroke="#e47070" stroke-opacity="0.5" fill="none">
<line x1="140" y1="1077.8" x2="503.4" y2="1019.2" stroke-width="0.5" stroke-opacity="0.4"/>
<line x1="348.0" y1="1042.7" x2="327.2" y2="1088.7" stroke-width="0.55"/>
<line x1="348.0" y1="1042.7" x2="290.0" y2="1110.7" stroke-width="0.55"/>
<line x1="348.0" y1="1042.7" x2="394.8" y2="1098.7" stroke-width="0.55"/>
<line x1="348.0" y1="1042.7" x2="328.0" y2="1144.7" stroke-width="0.55"/>
<line x1="348.0" y1="1042.7" x2="406.0" y2="1140.7" stroke-width="0.55"/>
<line x1="348.0" y1="1042.7" x2="262.8" y2="1157.3" stroke-width="0.55"/>
<line x1="348.0" y1="1042.7" x2="370.8" y2="1182.7" stroke-width="0.55"/>
<line x1="348.0" y1="1042.7" x2="292.8" y2="1203.5" stroke-width="0.55"/>
<line x1="348.0" y1="1042.7" x2="503.4" y2="1019.9" stroke-width="0.55"/>
<line x1="327.2" y1="1088.7" x2="290.0" y2="1110.7" stroke-width="1.00"/>
<line x1="327.2" y1="1088.7" x2="394.8" y2="1098.7" stroke-width="0.90"/>
<line x1="327.2" y1="1088.7" x2="328.0" y2="1144.7" stroke-width="0.90"/>
<line x1="327.2" y1="1088.7" x2="406.0" y2="1140.7" stroke-width="0.55"/>
<line x1="327.2" y1="1088.7" x2="262.8" y2="1157.3" stroke-width="0.55"/>
<line x1="327.2" y1="1088.7" x2="370.8" y2="1182.7" stroke-width="0.55"/>
<line x1="327.2" y1="1088.7" x2="292.8" y2="1203.5" stroke-width="0.55"/>
<line x1="290.0" y1="1110.7" x2="394.8" y2="1098.7" stroke-width="0.55"/>
<line x1="290.0" y1="1110.7" x2="328.0" y2="1144.7" stroke-width="1.30"/>
<line x1="290.0" y1="1110.7" x2="406.0" y2="1140.7" stroke-width="1.00"/>
<line x1="290.0" y1="1110.7" x2="262.8" y2="1157.3" stroke-width="0.90"/>
<line x1="290.0" y1="1110.7" x2="370.8" y2="1182.7" stroke-width="0.55"/>
<line x1="290.0" y1="1110.7" x2="292.8" y2="1203.5" stroke-width="0.55"/>
<line x1="290.0" y1="1110.7" x2="503.4" y2="1019.9" stroke-width="0.55"/>
<line x1="394.8" y1="1098.7" x2="328.0" y2="1144.7" stroke-width="0.55"/>
<line x1="394.8" y1="1098.7" x2="406.0" y2="1140.7" stroke-width="0.55"/>
<line x1="394.8" y1="1098.7" x2="262.8" y2="1157.3" stroke-width="0.55"/>
<line x1="394.8" y1="1098.7" x2="370.8" y2="1182.7" stroke-width="0.55"/>
<line x1="394.8" y1="1098.7" x2="292.8" y2="1203.5" stroke-width="0.55"/>
<line x1="394.8" y1="1098.7" x2="503.4" y2="1019.9" stroke-width="0.55"/>
<line x1="328.0" y1="1144.7" x2="406.0" y2="1140.7" stroke-width="0.55"/>
<line x1="328.0" y1="1144.7" x2="262.8" y2="1157.3" stroke-width="1.00"/>
<line x1="328.0" y1="1144.7" x2="370.8" y2="1182.7" stroke-width="1.00"/>
<line x1="328.0" y1="1144.7" x2="292.8" y2="1203.5" stroke-width="0.55"/>
<line x1="406.0" y1="1140.7" x2="262.8" y2="1157.3" stroke-width="0.55"/>
<line x1="406.0" y1="1140.7" x2="370.8" y2="1182.7" stroke-width="0.55"/>
<line x1="406.0" y1="1140.7" x2="292.8" y2="1203.5" stroke-width="0.55"/>
<line x1="262.8" y1="1157.3" x2="370.8" y2="1182.7" stroke-width="0.55"/>
<line x1="262.8" y1="1157.3" x2="292.8" y2="1203.5" stroke-width="0.55"/>
<line x1="370.8" y1="1182.7" x2="292.8" y2="1203.5" stroke-width="0.55"/>
</g>
<ellipse cx="90.0" cy="1007.7" rx="10.4" ry="8.6" fill="#5ea3d6" fill-opacity="0.82" stroke="#1f3850" stroke-width="0.6"/>
<ellipse cx="39.2" cy="1018.5" rx="9.4" ry="7.8" fill="#5ea3d6" fill-opacity="0.82" stroke="#1f3850" stroke-width="0.6"/>
<ellipse cx="156.8" cy="1017.7" rx="10.0" ry="8.0" fill="#5ea3d6" fill-opacity="0.82" stroke="#1f3850" stroke-width="0.6"/>
<ellipse cx="66.0" cy="1043.7" rx="9.6" ry="8.0" fill="#5ea3d6" fill-opacity="0.82" stroke="#1f3850" stroke-width="0.6"/>
<ellipse cx="127.2" cy="1038.5" rx="11.0" ry="9.6" fill="#5ea3d6" fill-opacity="0.82" stroke="#1f3850" stroke-width="0.6"/>
<ellipse cx="24.8" cy="1058.9" rx="9.6" ry="8.4" fill="#5ea3d6" fill-opacity="0.82" stroke="#1f3850" stroke-width="0.6"/>
<ellipse cx="118.0" cy="1067.7" rx="23.0" ry="20.0" fill="#5ea3d6" fill-opacity="0.82" stroke="#1f3850" stroke-width="0.6"/>
<ellipse cx="140.0" cy="1078.5" rx="15.6" ry="13.0" fill="#5ea3d6" fill-opacity="0.82" stroke="#1f3850" stroke-width="0.6"/>
<ellipse cx="40.8" cy="1083.7" rx="10.0" ry="8.6" fill="#5ea3d6" fill-opacity="0.82" stroke="#1f3850" stroke-width="0.6"/>
<ellipse cx="91.2" cy="1109.7" rx="11.6" ry="9.4" fill="#5ea3d6" fill-opacity="0.82" stroke="#1f3850" stroke-width="0.6"/>
<ellipse cx="348.0" cy="1042.7" rx="8.4" ry="7.0" fill="#f77f7f" fill-opacity="0.9" stroke="#3a2020" stroke-width="0.6"/>
<ellipse cx="327.2" cy="1088.7" rx="12.6" ry="10.4" fill="#f77f7f" fill-opacity="0.9" stroke="#3a2020" stroke-width="0.6"/>
<ellipse cx="290.0" cy="1110.7" rx="18.0" ry="14.4" fill="#f77f7f" fill-opacity="0.9" stroke="#3a2020" stroke-width="0.6"/>
<ellipse cx="394.8" cy="1098.7" rx="7.0" ry="6.0" fill="#f77f7f" fill-opacity="0.9" stroke="#3a2020" stroke-width="0.6"/>
<ellipse cx="328.0" cy="1144.7" rx="12.0" ry="10.4" fill="#f77f7f" fill-opacity="0.9" stroke="#3a2020" stroke-width="0.6"/>
<ellipse cx="406.0" cy="1140.7" rx="7.0" ry="6.4" fill="#f77f7f" fill-opacity="0.9" stroke="#3a2020" stroke-width="0.6"/>
<ellipse cx="262.8" cy="1157.3" rx="10.6" ry="9.0" fill="#f77f7f" fill-opacity="0.9" stroke="#3a2020" stroke-width="0.6"/>
<ellipse cx="370.8" cy="1182.7" rx="7.0" ry="6.0" fill="#f77f7f" fill-opacity="0.9" stroke="#3a2020" stroke-width="0.6"/>
<ellipse cx="292.8" cy="1203.5" rx="6.0" ry="5.0" fill="#f77f7f" fill-opacity="0.9" stroke="#3a2020" stroke-width="0.6"/>
<ellipse cx="503.4" cy="1019.9" rx="1.3" ry="1.2" fill="#f77f7f" fill-opacity="0.9" stroke="#3a2020" stroke-width="0.6"/>
<text x="68.00" y="1006.80" font-family='"Liberation Serif", serif' font-size="8.85" font-weight="bold" fill="#3a3a3a" text-anchor="start" fill-opacity="0.85">hallegatte s 2011</text>
<text x="24.00" y="1017.20" font-family='"Liberation Serif", serif' font-size="8.85" font-weight="bold" fill="#3a3a3a" text-anchor="start" fill-opacity="0.85">ng aky 2013</text>
<text x="124.80" y="1016.40" font-family='"Liberation Serif", serif' font-size="8.85" font-weight="bold" fill="#3a3a3a" text-anchor="start" fill-opacity="0.85">anonymous 2013 2013</text>
<text x="44.00" y="1042.80" font-family='"Liberation Serif", serif' font-size="8.85" font-weight="bold" fill="#3a3a3a" text-anchor="start" fill-opacity="0.85">rahmstorf s 2007</text>
<text x="112.80" y="1038.80" font-family='"Liberation Serif", serif' font-size="8.85" font-weight="bold" fill="#3a3a3a" text-anchor="start" fill-opacity="0.85">mase h 2013</text>
<text x="8.00" y="1058.80" font-family='"Liberation Serif", serif' font-size="8.85" font-weight="bold" fill="#3a3a3a" text-anchor="start" fill-opacity="0.85">kane hh 2015</text>
<text x="102.00" y="1067.20" font-family='"Liberation Serif", serif' font-size="8.85" font-weight="bold" fill="#3a3a3a" text-anchor="start" fill-opacity="0.85">becker a 2012</text>
<text x="108.00" y="1078.00" font-family='"Liberation Serif", serif' font-size="8.85" font-weight="bold" fill="#3a3a3a" text-anchor="start" fill-opacity="0.85">sánchez-arcilla a 2016</text>
<text x="15.20" y="1084.00" font-family='"Liberation Serif", serif' font-size="8.85" font-weight="bold" fill="#3a3a3a" text-anchor="start" fill-opacity="0.85">burcharth hf 2014</text>
<text x="72.80" y="1107.20" font-family='"Liberation Serif", serif' font-size="8.85" font-weight="bold" fill="#3a3a3a" text-anchor="start" fill-opacity="0.85">chhetri p 2015</text>
<text x="328.00" y="1041.80" font-family='"Liberation Serif", serif' font-size="8.85" font-weight="bold" fill="#3a3a3a" text-anchor="start" fill-opacity="0.85">becker ah 2015</text>
<text x="308.00" y="1089.00" font-family='"Liberation Serif", serif' font-size="8.85" font-weight="bold" fill="#3a3a3a" text-anchor="start" fill-opacity="0.85">becker ah 2013</text>
<text x="272.00" y="1109.80" font-family='"Liberation Serif", serif' font-size="8.85" font-weight="bold" fill="#3a3a3a" text-anchor="start" fill-opacity="0.85">hanson s 2011</text>
<text x="378.00" y="1099.00" font-family='"Liberation Serif", serif' font-size="8.85" font-weight="bold" fill="#3a3a3a" text-anchor="start" fill-opacity="0.85">becker a 2016</text>
<text x="312.00" y="1144.50" font-family='"Liberation Serif", serif' font-size="8.85" font-weight="bold" fill="#3a3a3a" text-anchor="start" fill-opacity="0.85">zhang y 2015</text>
<text x="392.00" y="1139.80" font-family='"Liberation Serif", serif' font-size="8.85" font-weight="bold" fill="#3a3a3a" text-anchor="start" fill-opacity="0.85">lam jcl 2015</text>
<text x="244.00" y="1155.80" font-family='"Liberation Serif", serif' font-size="8.85" font-weight="bold" fill="#3a3a3a" text-anchor="start" fill-opacity="0.85">sierra jp 2017</text>
<text x="356.00" y="1181.80" font-family='"Liberation Serif", serif' font-size="8.85" font-weight="bold" fill="#3a3a3a" text-anchor="start" fill-opacity="0.85">lam jcl 2017</text>
<text x="276.00" y="1201.80" font-family='"Liberation Serif", serif' font-size="8.85" font-weight="bold" fill="#3a3a3a" text-anchor="start" fill-opacity="0.85">camus p 2017</text>
<text x="488.00" y="1019.60" font-family='"Liberation Serif", serif' font-size="8.85" font-weight="bold" fill="#3a3a3a" text-anchor="start" fill-opacity="0.85">crmc (rhode</text>
</svg></body></html>
